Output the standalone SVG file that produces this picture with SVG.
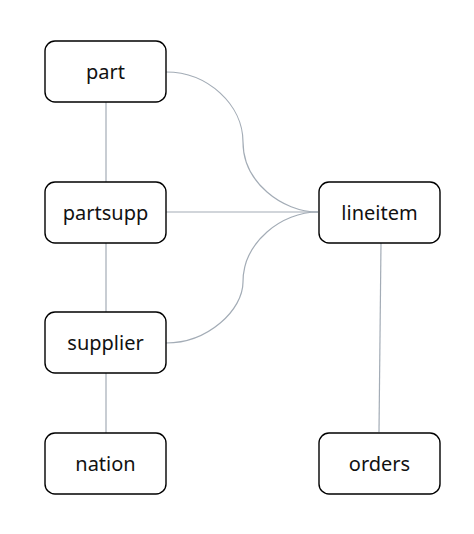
<svg xmlns="http://www.w3.org/2000/svg" width="474" height="534" viewBox="0 0 474 534">
<style>
.n rect{fill:#fff;stroke:#000;stroke-width:1.4}
.n text{font-family:"Noto Sans","DejaVu Sans",sans-serif;font-size:20px;fill:#111;text-anchor:middle;dominant-baseline:central}
.e path{fill:none;stroke:#a3acb6;stroke-width:1.2}
</style>
<rect width="474" height="534" fill="#fff"/>
<g class="e" id="connectors">
<path d="M106,102 V182"/>
<path d="M106,243 V312"/>
<path d="M106,373 V433"/>
<path d="M381,243 L379,432"/>
<path d="M166,212 H318"/>
<path d="M166,72 C208,72 243,105 243,142 C243,182 282,212 318,212"/>
<path d="M166,343 C208,343 243,310 243,282 C243,242 282,212 318,212"/>
</g>
<g class="n" id="part"><rect x="45" y="41" width="121" height="61" rx="10"/><text x="105.5" y="71.5">part</text></g>
<g class="n" id="partsupp"><rect x="45" y="182" width="121" height="61" rx="10"/><text x="105.5" y="212.5">partsupp</text></g>
<g class="n" id="supplier"><rect x="45" y="312" width="121" height="61" rx="10"/><text x="105.5" y="342.5">supplier</text></g>
<g class="n" id="nation"><rect x="45" y="433" width="121" height="61" rx="10"/><text x="105.5" y="463.5">nation</text></g>
<g class="n" id="lineitem"><rect x="319" y="182" width="121" height="61" rx="10"/><text x="379.5" y="212.5">lineitem</text></g>
<g class="n" id="orders"><rect x="319" y="433" width="121" height="61" rx="10"/><text x="379.5" y="463.5">orders</text></g>
</svg>
